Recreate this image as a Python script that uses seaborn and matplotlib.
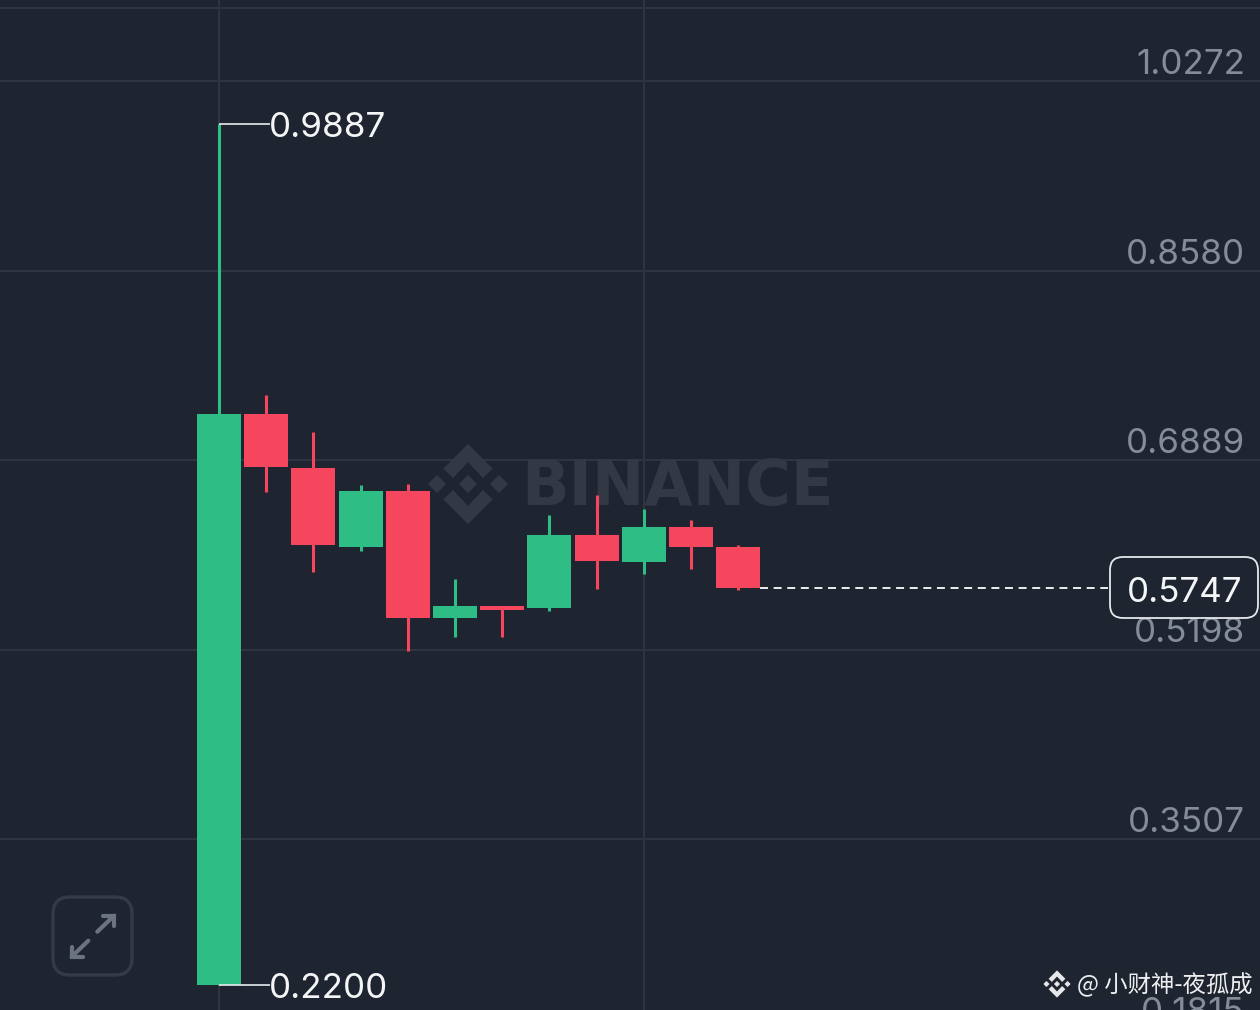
import numpy as np
import pandas as pd
import matplotlib
matplotlib.use("Agg")
import matplotlib.pyplot as plt
import seaborn as sns
from matplotlib.patches import FancyBboxPatch, Polygon
from matplotlib.transforms import Affine2D

# ---- data ----
opens  = [0.2200, 0.7302, 0.6820, 0.6115, 0.6610, 0.5477, 0.5585, 0.5567, 0.6218, 0.5977, 0.6289, 0.6115]
closes = [0.7302, 0.6823, 0.6129, 0.6610, 0.5477, 0.5589, 0.5553, 0.6222, 0.5986, 0.6289, 0.6111, 0.5747]
highs  = [0.9887, 0.7467, 0.7141, 0.6668, 0.6673, 0.5830, 0.5589, 0.6401, 0.6579, 0.6454, 0.6356, 0.6129]
lows   = [0.2200, 0.6606, 0.5888, 0.6080, 0.5188, 0.5312, 0.5312, 0.5544, 0.5741, 0.5874, 0.5915, 0.5732]
price_ticks = [1.0272, 0.8580, 0.6889, 0.5198, 0.3507, 0.1815]
price_labels = ["1.0272", "0.8580", "0.6889", "0.5198", "0.3507", "0.1815"]
time_ticks = [0, 9]
high_label, low_label, last_label = "0.9887", "0.2200", "0.5747"
high_price, low_price, last_price = 0.9887, 0.2200, 0.5747
credit = "@ 小财神-夜孤成"
brand = "BINANCE"

BG, GRID = "#1f2530", "#2e3541"
GREEN, RED = "#2ebd85", "#f6465d"
AXTXT, WATER = "#848c98", "#323945"

W, H = 1260, 1010
sns.set_theme(style="dark", rc={"axes.facecolor": BG, "figure.facecolor": BG})
plt.rcParams["font.family"] = ["Inter", "Noto Sans CJK SC", "DejaVu Sans"]

fig = plt.figure(figsize=(W / 100, H / 100), dpi=100)
ax = fig.add_axes([0, 0, 1, 1])

df = pd.DataFrame({"i": np.arange(len(opens)), "o": opens, "c": closes, "h": highs, "l": lows})
df["bottom"] = df[["o", "c"]].min(axis=1)
df["size"] = (df["c"] - df["o"]).abs()
df["dir"] = np.where(df["c"] >= df["o"], "up", "down")

# scales: pixel geometry of the reference
px_per_step = 47.2
x0 = 219
price_per_px = (1.0272 - 0.5198) / (649.5 - 81)

for _, row in df.iterrows():
    sns.barplot(x=[row["i"]], y=[row["size"]], bottom=row["bottom"], native_scale=True,
                color=GREEN if row["dir"] == "up" else RED, width=44 / px_per_step, saturation=1,
                ax=ax, zorder=3, linewidth=0)
ax.vlines(df["i"], df["l"], df["h"], colors=[GREEN if d == "up" else RED for d in df["dir"]],
          lw=2.2, zorder=2.5)

ax.set_xticks(time_ticks); ax.set_yticks(price_ticks)
ax.set_xlim(-x0 / px_per_step, (W - x0) / px_per_step)
ax.set_ylim(1.0272 - (H - 81) * price_per_px, 1.0272 + 81 * price_per_px)
ax.set_xlabel(""); ax.set_ylabel("")
ax.tick_params(left=False, bottom=False, labelleft=False, labelbottom=False)
ax.grid(True, color=GRID, lw=1.5, zorder=0)
ax.set_axisbelow(True)
for s in ax.spines.values():
    s.set_visible(False)

# pixel-space transform for furniture (origin top-left)
px = Affine2D().scale(1, -1).translate(0, H)

def logo(cx, cy, k, color, zorder=1):
    d = 9
    for sx, sy in [(0, 0), (-31, 0), (31, 0)]:
        pts = [(sx, sy - d), (sx + d, sy), (sx, sy + d), (sx - d, sy)]
        ax.add_patch(Polygon([(cx + k * a, cy + k * b) for a, b in pts], transform=px, fc=color, ec="none", zorder=zorder))
    for m in (1, -1):
        pts = [(0, -40), (24.7, -15.3), (15, -6), (0, -22), (-15, -6), (-24.7, -15.3)]
        ax.add_patch(Polygon([(cx + k * a, cy + k * m * b) for a, b in pts], transform=px, fc=color, ec="none", zorder=zorder))

# watermark
logo(468, 484, 1, WATER, zorder=1)
ax.text(521, 505, brand, transform=px, color=WATER, fontsize=45, fontweight="bold", va="baseline", ha="left",
        zorder=1, family=["DejaVu Sans"])

# price-axis labels (sit just above their gridline)
for p, lab in zip(price_ticks, price_labels):
    ax.annotate(lab, (1, p), xycoords=("axes fraction", "data"), xytext=(-15, 7),
                textcoords="offset pixels", ha="right", va="baseline", color=AXTXT, fontsize=25.2, zorder=1,
                annotation_clip=False)

# top frame line
ax.plot([0, W], [8, 8], transform=px, color=GRID, lw=1.5, zorder=1)

# high / low call-outs
for p, lab in [(high_price, high_label), (low_price, low_label)]:
    ax.annotate(lab, xy=(0, p), xytext=(50, -4), textcoords="offset pixels",
                color="#f4f5f6", fontsize=25.2, va="center", ha="left", zorder=6)
    ax.hlines(p, 0, 51 / px_per_step, color="#e8eaed", lw=1.2, zorder=5)

# last price line and tag
ax.hlines(last_price, df["i"].iloc[-1] + 22 / px_per_step, (1108 - x0) / px_per_step, color="#eceef0", lw=1.4,
          linestyles=(0, (4.1, 2.9)), zorder=4)
ax.add_patch(FancyBboxPatch((1123, 570), 122, 35, boxstyle="round,pad=13,rounding_size=13", transform=px,
                            fc=BG, ec="#e6e8eb", lw=1.3, zorder=5))
ax.text(1184.5, 593, last_label, transform=px, color="#f4f5f6", fontsize=25.2, ha="center", va="center", zorder=6)

# expand button
ax.add_patch(FancyBboxPatch((70, 914), 45, 44, boxstyle="round,pad=17,rounding_size=17", transform=px,
                            fc="none", ec="#343b47", lw=2.4, zorder=2))
for seg in ([(97.3, 931.7), (114, 915.7)], [(103.3, 915.7), (114, 915.7), (114, 925.7)],
            [(88.3, 940.7), (71.7, 956.7)], [(71.7, 946.7), (71.7, 956.7), (82.7, 956.7)]):
    xs, ys = zip(*seg)
    ax.plot(xs, ys, transform=px, color="#6c7380", lw=3, solid_capstyle="round", solid_joinstyle="miter", zorder=3)

# credit
logo(1057, 984, 0.34, "#e6e7e9", zorder=7)
ax.text(1077, 985, credit, transform=px, color="#eeeff0", fontsize=16.8, ha="left", va="center", zorder=7,
        family=["Noto Sans CJK SC", "DejaVu Sans"])

fig.savefig("out.png", dpi=100, facecolor=BG)
